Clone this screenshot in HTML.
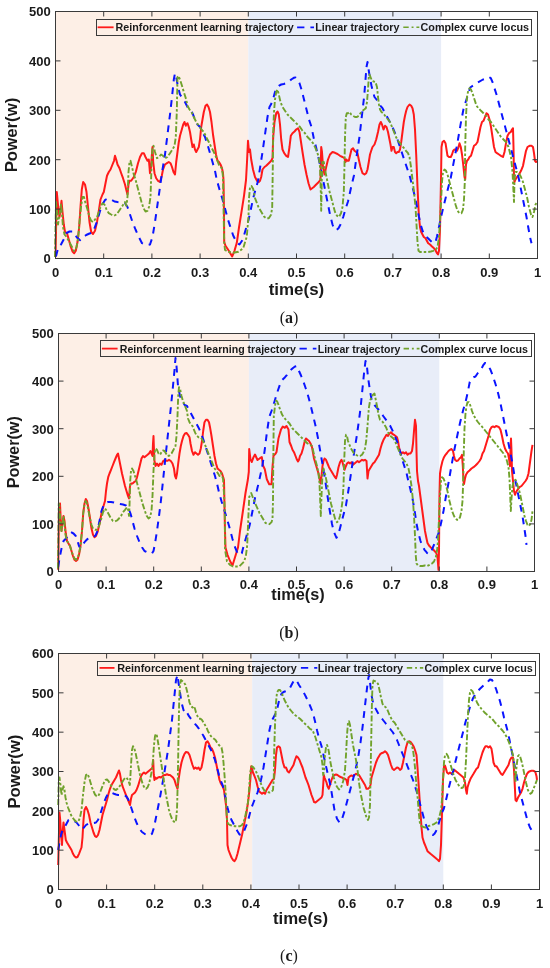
<!DOCTYPE html>
<html><head><meta charset="utf-8"><title>Power curves</title><style>html,body{margin:0;padding:0;background:#fff;width:550px;height:968px;overflow:hidden}</style></head><body>
<svg width="550" height="968" viewBox="0 0 550 968" style="display:block">
<rect width="550" height="968" fill="#fff"/>
<rect x="55.5" y="11.5" width="192.80" height="247.00" fill="#fdefe6"/>
<rect x="248.30" y="11.5" width="192.80" height="247.00" fill="#e8edf8"/>
<g fill="none" stroke-linejoin="round">
<path d="M55.5 257.0 L56.8 192.0 L58.2 207.0 L59.5 217.0 L60.5 209.5 L61.5 200.8 L62.5 212.0 L63.8 224.5 L65.0 232.0 L67.0 233.2 L68.8 239.5 L70.5 245.8 L72.5 251.5 L74.2 253.2 L75.8 250.8 L77.5 242.0 L79.2 227.0 L80.5 207.0 L81.8 189.5 L83.2 182.0 L85.0 184.5 L86.5 192.0 L88.0 207.0 L89.5 222.0 L91.2 232.0 L93.0 234.0 L95.0 230.8 L97.0 222.0 L98.8 210.8 L100.5 199.5 L102.5 194.5 L103.8 192.0 L105.5 183.2 L107.0 175.8 L108.8 172.0 L110.5 169.5 L112.5 164.5 L114.0 160.8 L115.0 155.8 L116.2 159.5 L117.5 164.5 L119.5 168.2 L121.2 173.2 L123.0 178.2 L125.0 184.5 L126.2 189.5 L127.5 194.5 L128.5 184.5 L129.5 180.8 L131.2 180.8 L133.8 177.0 L135.8 172.0 L138.0 163.2 L140.0 157.0 L142.0 153.2 L143.8 153.2 L145.5 157.0 L147.5 160.8 L148.8 159.5 L149.5 167.0 L150.0 173.2 L151.0 167.0 L151.8 155.8 L152.5 147.0 L153.2 162.0 L154.5 173.2 L156.2 178.2 L158.0 180.8 L160.0 182.0 L161.8 175.8 L163.0 169.5 L165.0 164.5 L167.0 163.2 L168.8 162.0 L170.5 163.2 L172.0 167.0 L173.5 172.0 L175.0 174.5 L176.2 162.0 L177.5 152.0 L178.8 142.0 L180.0 135.8 L181.8 129.5 L183.2 124.5 L184.5 122.0 L185.8 125.8 L186.2 124.5 L187.5 123.2 L188.8 127.0 L190.0 132.0 L191.2 139.5 L192.5 147.0 L193.8 144.5 L195.0 149.5 L196.2 152.0 L197.5 149.5 L198.8 147.0 L200.0 139.5 L201.2 127.0 L202.5 119.5 L203.8 112.0 L205.5 105.8 L207.0 104.5 L208.5 107.0 L210.0 112.0 L211.5 122.0 L213.0 134.5 L214.5 144.5 L216.0 154.5 L217.5 160.8 L219.0 162.0 L220.5 164.5 L222.0 168.2 L223.0 173.2 L223.5 180.0 L224.0 212.0 L224.2 242.0 L225.5 245.8 L228.8 250.8 L232.2 256.5 L234.5 250.8 L236.8 242.8 L239.0 227.5 L241.5 211.8 L244.0 195.8 L246.0 180.0 L247.0 162.0 L248.0 140.8 L249.0 152.0 L250.0 149.5 L251.2 159.5 L253.0 169.5 L255.0 177.0 L257.0 180.8 L258.8 182.0 L260.0 180.8 L261.2 177.0 L262.5 169.5 L264.5 167.0 L266.2 165.8 L268.8 163.2 L271.2 160.8 L272.5 158.2 L273.2 137.0 L274.5 122.0 L276.2 113.2 L277.5 111.5 L278.8 114.5 L280.0 124.5 L281.2 139.5 L282.5 149.5 L284.2 153.2 L286.2 155.8 L288.0 157.0 L289.5 147.0 L290.8 135.8 L292.5 133.2 L294.5 131.5 L296.2 129.5 L298.0 128.2 L299.5 132.0 L301.0 142.0 L302.5 152.0 L304.5 164.5 L306.5 174.5 L308.5 183.2 L310.5 189.5 L313.8 187.0 L316.2 184.5 L318.8 182.0 L320.5 179.5 L321.2 147.0 L322.0 152.0 L323.0 167.0 L324.5 174.5 L326.2 167.0 L328.0 159.5 L330.0 154.5 L332.5 152.0 L335.0 152.8 L337.5 154.0 L340.0 155.8 L342.5 157.0 L344.5 158.2 L345.5 162.0 L346.5 159.5 L347.5 160.8 L348.8 160.8 L350.0 155.8 L351.5 149.5 L353.0 148.2 L354.5 150.8 L356.2 152.0 L357.5 153.2 L358.8 159.5 L360.5 167.0 L362.5 173.2 L364.5 174.5 L366.2 173.2 L367.5 169.5 L368.8 162.0 L370.0 154.5 L371.2 150.8 L372.5 147.0 L374.5 144.5 L376.2 139.5 L378.0 132.0 L379.5 124.5 L380.8 122.0 L382.0 124.5 L383.5 129.5 L385.0 125.8 L386.5 127.0 L388.0 132.0 L389.5 139.5 L390.5 144.5 L391.5 150.8 L392.5 147.0 L393.8 147.0 L395.0 152.0 L396.2 153.2 L397.5 152.0 L398.8 152.0 L400.0 149.5 L401.2 142.0 L402.5 132.0 L403.8 122.0 L405.0 115.8 L406.2 110.8 L407.5 107.0 L409.5 104.5 L411.2 105.8 L412.5 108.2 L413.8 114.5 L415.0 129.5 L416.2 154.5 L417.5 187.0 L418.8 214.5 L420.0 227.0 L421.2 232.0 L422.5 234.5 L423.8 237.0 L425.5 238.2 L428.2 243.2 L430.0 244.5 L432.0 246.5 L434.0 248.2 L435.8 250.8 L437.0 253.2 L438.0 254.5 L439.0 250.8 L440.0 229.5 L441.0 179.5 L441.5 147.0 L442.5 142.0 L444.0 140.8 L445.5 143.2 L446.5 149.5 L447.5 155.8 L449.0 157.0 L450.8 157.0 L452.0 154.5 L453.2 150.8 L454.5 149.5 L455.8 149.5 L457.0 150.8 L458.2 148.2 L459.5 143.2 L460.8 147.0 L462.0 154.5 L463.2 164.5 L464.5 177.0 L465.2 179.5 L466.0 164.5 L467.0 160.8 L468.2 159.5 L469.5 157.0 L471.0 155.8 L472.5 150.8 L474.0 145.8 L475.8 144.5 L477.5 142.0 L479.0 134.5 L480.5 127.0 L482.0 122.0 L483.5 120.8 L485.0 117.0 L486.5 113.2 L488.0 114.5 L489.5 119.5 L491.0 127.0 L492.5 137.0 L494.0 147.0 L495.5 152.0 L497.0 153.2 L499.0 154.5 L501.0 155.8 L503.0 157.0 L504.5 152.0 L506.0 143.2 L507.5 135.8 L509.0 133.2 L510.8 132.0 L512.0 129.5 L513.0 128.2 L513.5 147.0 L514.0 177.0 L514.5 182.0 L515.5 179.5 L517.0 177.0 L519.0 174.5 L521.0 170.8 L523.0 165.8 L524.5 158.2 L526.0 150.8 L527.5 147.0 L529.5 145.8 L531.5 145.8 L533.0 147.0 L534.0 153.2 L535.0 160.8 L536.0 162.0 L537.0 160.8" stroke="#ff1a1a" stroke-width="2"/>
<path d="M55.5 256.5 L56.2 255.5 L58.5 246.8 L61.0 244.5 L63.0 240.8 L65.0 237.0 L66.5 233.0 L69.5 231.5 L73.0 231.5 L75.2 235.2 L77.5 238.0 L80.2 240.2 L83.0 237.0 L86.2 235.0 L89.5 233.5 L92.8 232.5 L96.5 222.8 L99.8 211.8 L102.0 205.2 L105.2 199.8 L108.0 198.5 L111.2 199.5 L114.5 201.5 L117.5 202.0 L121.2 202.5 L125.0 203.2 L127.5 207.0 L130.0 214.5 L132.5 222.0 L135.5 229.5 L138.8 237.0 L142.0 243.2 L145.0 244.5 L147.5 245.0 L150.0 244.5 L152.5 237.0 L155.0 222.0 L157.5 204.5 L160.0 187.0 L162.5 169.5 L165.0 154.5 L167.5 134.5 L170.0 114.5 L172.0 97.0 L173.8 79.5 L175.0 73.2 L176.2 77.0 L178.0 87.0 L180.0 94.5 L182.5 98.2 L185.0 102.0 L187.5 107.0 L190.0 109.5 L192.5 113.2 L195.0 119.5 L197.5 124.5 L200.0 127.0 L202.5 132.0 L205.0 137.0 L207.5 144.5 L210.0 153.2 L212.5 162.0 L215.0 170.8 L216.8 180.0 L219.5 189.5 L222.2 198.2 L225.0 208.5 L227.8 219.0 L230.5 227.5 L233.2 235.5 L236.8 242.8 L239.5 244.5 L242.0 240.8 L244.0 235.5 L246.2 227.8 L248.5 220.0 L250.8 209.5 L253.2 198.2 L255.5 189.5 L257.8 181.8 L260.0 168.2 L262.5 152.0 L265.0 134.5 L267.5 117.0 L269.5 107.0 L271.2 104.0 L273.0 99.5 L275.0 92.0 L276.8 88.2 L278.8 85.8 L281.2 84.5 L283.8 84.0 L286.2 83.2 L288.8 82.0 L291.2 79.5 L293.8 77.8 L295.5 77.5 L297.5 79.5 L299.5 83.2 L301.5 89.5 L304.0 99.5 L306.5 109.5 L309.0 119.5 L311.5 127.0 L314.0 139.5 L316.0 147.0 L318.0 155.8 L320.0 164.5 L322.5 177.0 L325.0 189.5 L327.5 202.0 L330.0 214.5 L332.5 224.5 L334.5 229.5 L336.5 230.0 L338.5 228.2 L340.5 224.5 L343.2 217.0 L345.8 208.2 L348.0 201.5 L351.0 187.8 L354.0 175.2 L357.2 152.0 L359.5 136.5 L362.0 114.8 L364.2 96.2 L365.5 79.5 L366.5 67.0 L367.5 62.0 L368.8 70.8 L370.0 78.2 L371.5 85.8 L373.0 92.0 L374.5 97.0 L376.5 99.5 L378.5 102.0 L380.5 105.8 L382.5 108.2 L384.5 112.0 L386.5 115.8 L388.5 119.5 L390.5 123.2 L392.5 127.0 L395.0 133.2 L397.5 139.5 L400.0 147.0 L402.5 154.5 L405.0 162.0 L407.5 169.5 L410.0 177.0 L412.5 187.0 L415.0 197.0 L417.0 207.0 L419.0 217.0 L421.0 225.8 L423.0 232.0 L425.0 235.8 L428.0 238.2 L430.0 240.2 L432.0 242.0 L434.0 243.2 L435.8 240.8 L437.0 236.5 L439.0 227.0 L441.0 217.0 L445.8 197.2 L450.8 177.5 L454.5 158.0 L457.5 142.5 L460.5 124.8 L463.5 109.0 L466.5 99.2 L470.2 87.5 L476.2 83.5 L483.0 79.5 L487.0 78.2 L489.0 77.0 L490.8 78.2 L492.5 82.0 L494.5 88.2 L496.5 94.5 L498.5 102.0 L500.5 109.5 L502.5 117.0 L504.5 124.5 L506.5 132.0 L508.5 139.5 L510.5 147.0 L512.5 154.5 L514.5 162.0 L516.5 169.5 L518.5 177.0 L520.5 187.0 L522.5 197.0 L524.5 207.0 L526.5 217.0 L528.2 227.0 L530.0 237.0 L531.5 243.2" stroke="#0a14ff" stroke-width="2" stroke-dasharray="6.8 6"/>
<path d="M55.0 257.0 L56.0 202.0 L57.0 212.0 L58.0 224.5 L59.5 214.5 L61.0 204.5 L62.0 214.5 L63.0 227.0 L64.5 234.5 L66.2 236.5 L68.0 239.5 L70.0 243.2 L72.0 247.0 L73.8 250.8 L75.0 250.8 L76.5 247.0 L78.0 239.5 L79.5 222.0 L81.0 207.0 L82.5 197.0 L84.0 197.0 L85.5 203.2 L87.5 209.5 L89.5 217.0 L91.2 220.8 L93.0 222.0 L95.0 219.5 L97.0 217.0 L98.8 212.0 L100.5 207.0 L102.5 203.2 L104.5 204.5 L106.5 209.5 L108.8 213.2 L111.2 214.5 L113.8 215.8 L115.5 215.0 L117.5 213.2 L120.0 209.5 L122.5 205.8 L125.0 202.0 L126.5 205.8 L127.5 197.0 L128.5 172.0 L129.5 162.0 L130.5 160.8 L132.0 167.0 L133.8 174.5 L135.5 179.5 L137.5 187.0 L139.5 194.5 L141.5 202.0 L143.5 208.2 L145.5 211.5 L147.5 210.8 L149.0 207.0 L150.5 197.0 L151.5 167.0 L152.5 147.0 L153.5 145.8 L155.0 152.0 L157.0 158.2 L159.0 157.0 L161.0 154.5 L163.0 155.8 L165.0 158.2 L167.5 157.0 L170.0 153.2 L172.5 149.5 L174.5 145.8 L175.8 137.0 L176.8 112.0 L177.5 77.0 L178.5 75.8 L180.0 79.5 L182.0 85.8 L183.8 92.0 L186.2 99.5 L187.5 105.8 L189.5 109.5 L191.5 112.0 L193.8 117.0 L196.2 122.0 L198.8 125.8 L201.2 129.0 L203.8 132.0 L206.2 137.0 L208.8 142.0 L211.2 147.0 L213.8 152.0 L215.5 155.8 L217.0 159.5 L218.8 164.5 L220.5 167.0 L222.0 168.5 L223.0 177.0 L223.5 207.0 L224.2 242.0 L225.0 250.0 L228.5 251.8 L233.2 252.8 L238.5 251.8 L243.2 248.2 L246.8 236.5 L248.5 216.5 L249.0 198.2 L250.0 187.2 L251.5 186.0 L253.2 189.0 L255.0 198.2 L258.5 207.2 L264.0 216.5 L266.2 218.2 L268.8 218.2 L271.2 214.5 L272.2 207.0 L272.8 167.0 L273.2 132.0 L274.0 112.0 L275.0 99.5 L276.2 92.0 L277.5 89.5 L278.8 94.5 L280.5 102.0 L282.5 107.0 L285.0 110.8 L287.5 114.5 L290.0 117.0 L292.5 119.5 L295.0 122.0 L297.5 124.5 L300.0 127.0 L302.5 130.8 L305.0 133.2 L307.5 137.0 L310.0 139.5 L313.0 143.2 L315.0 147.0 L317.0 152.0 L318.8 157.0 L320.0 167.0 L320.8 192.0 L321.2 210.8 L321.8 179.5 L322.5 162.0 L323.8 162.0 L325.0 169.5 L327.0 179.5 L329.0 189.5 L331.0 197.0 L333.0 204.5 L335.0 212.0 L337.0 215.8 L339.0 217.0 L341.0 213.2 L342.5 207.0 L343.8 192.0 L344.5 164.5 L345.0 137.0 L345.8 117.0 L346.8 113.2 L348.0 113.2 L349.5 112.0 L351.2 114.5 L353.0 115.8 L355.0 117.0 L357.0 117.0 L358.8 115.8 L360.5 113.2 L362.5 110.8 L364.2 109.5 L365.8 108.2 L367.0 102.0 L368.0 89.5 L368.8 77.0 L369.5 74.5 L370.5 77.0 L372.0 80.8 L373.8 81.5 L375.5 82.0 L377.0 87.0 L378.0 97.0 L379.0 104.5 L380.0 109.5 L381.5 112.0 L383.0 113.2 L384.5 115.0 L386.0 117.0 L388.0 119.5 L390.0 122.0 L392.0 127.0 L394.0 132.0 L396.0 137.0 L398.0 140.8 L400.0 143.2 L402.0 145.8 L404.0 148.2 L406.0 150.8 L408.0 153.2 L409.5 157.0 L411.0 167.0 L412.5 179.5 L414.0 192.0 L415.5 207.0 L416.5 224.5 L417.5 242.0 L418.5 250.8 L420.0 252.0 L422.5 252.0 L425.0 252.0 L428.2 252.0 L430.8 251.5 L433.2 250.8 L435.8 249.5 L437.5 247.0 L439.0 237.0 L440.0 222.0 L441.0 202.0 L442.0 182.0 L443.0 172.0 L444.5 169.5 L446.0 170.8 L447.5 174.5 L449.5 182.0 L451.5 189.5 L453.5 197.0 L455.5 204.5 L457.5 210.8 L459.5 213.2 L461.5 213.2 L463.0 209.5 L464.0 199.5 L464.8 182.0 L465.2 147.0 L466.0 117.0 L467.0 97.0 L468.2 90.8 L469.5 88.2 L471.0 89.5 L472.5 93.2 L474.5 99.5 L476.5 105.8 L478.5 108.2 L481.0 110.8 L483.5 113.2 L486.0 115.8 L488.5 119.5 L491.0 122.0 L493.5 125.8 L496.0 129.5 L498.5 133.2 L501.0 137.0 L503.5 139.5 L506.0 142.0 L508.5 147.0 L511.0 157.0 L512.5 172.0 L513.5 192.0 L514.0 202.0 L514.5 179.5 L515.5 172.0 L517.0 172.0 L519.0 173.2 L521.0 177.0 L523.0 182.0 L525.0 189.5 L527.0 197.0 L529.0 207.0 L531.0 214.5 L532.5 217.0 L534.0 212.0 L535.5 204.5 L536.5 203.2" stroke="#70a22c" stroke-width="1.9" stroke-dasharray="6 2 2.5 2"/>
</g>
<rect x="55.5" y="11.5" width="482.00" height="247.00" fill="none" stroke="#3a3a3a" stroke-width="1"/>
<path d="M55.50 258.5V253.5M55.50 11.5V16.5M103.70 258.5V253.5M103.70 11.5V16.5M151.90 258.5V253.5M151.90 11.5V16.5M200.10 258.5V253.5M200.10 11.5V16.5M248.30 258.5V253.5M248.30 11.5V16.5M296.50 258.5V253.5M296.50 11.5V16.5M344.70 258.5V253.5M344.70 11.5V16.5M392.90 258.5V253.5M392.90 11.5V16.5M441.10 258.5V253.5M441.10 11.5V16.5M489.30 258.5V253.5M489.30 11.5V16.5M537.50 258.5V253.5M537.50 11.5V16.5M55.5 258.50H60.5M537.5 258.50H532.5M55.5 209.10H60.5M537.5 209.10H532.5M55.5 159.70H60.5M537.5 159.70H532.5M55.5 110.30H60.5M537.5 110.30H532.5M55.5 60.90H60.5M537.5 60.90H532.5M55.5 11.50H60.5M537.5 11.50H532.5" stroke="#3a3a3a" stroke-width="1" fill="none"/>
<g style="font-family:'Liberation Sans',Arial,sans-serif;font-weight:bold;font-size:13px" fill="#1a1a1a"><text x="55.50" y="276.6" text-anchor="middle">0</text><text x="103.70" y="276.6" text-anchor="middle">0.1</text><text x="151.90" y="276.6" text-anchor="middle">0.2</text><text x="200.10" y="276.6" text-anchor="middle">0.3</text><text x="248.30" y="276.6" text-anchor="middle">0.4</text><text x="296.50" y="276.6" text-anchor="middle">0.5</text><text x="344.70" y="276.6" text-anchor="middle">0.6</text><text x="392.90" y="276.6" text-anchor="middle">0.7</text><text x="441.10" y="276.6" text-anchor="middle">0.8</text><text x="489.30" y="276.6" text-anchor="middle">0.9</text><text x="537.50" y="276.6" text-anchor="middle">1</text><text x="50.70" y="263.30" text-anchor="end">0</text><text x="50.70" y="213.90" text-anchor="end">100</text><text x="50.70" y="164.50" text-anchor="end">200</text><text x="50.70" y="115.10" text-anchor="end">300</text><text x="50.70" y="65.70" text-anchor="end">400</text><text x="50.70" y="16.30" text-anchor="end">500</text></g>
<text transform="translate(17.4,135.0) rotate(-90)" text-anchor="middle" style="font-family:'Liberation Sans',Arial,sans-serif;font-weight:bold;font-size:17px" fill="#1a1a1a" textLength="74.7" lengthAdjust="spacingAndGlyphs">Power(w)</text>
<text x="296.45" y="294.6" text-anchor="middle" style="font-family:'Liberation Sans',Arial,sans-serif;font-weight:bold;font-size:17px" fill="#1a1a1a" textLength="55.5" lengthAdjust="spacingAndGlyphs">time(s)</text>
<text x="289" y="322.8" text-anchor="middle" style="font-family:'Liberation Serif',serif;font-size:16px" fill="#1a1a1a">(<tspan font-weight="bold">a</tspan>)</text>
<rect x="96.5" y="19.5" width="435.00" height="16.00" fill="none" stroke="#3a3a3a" stroke-width="1"/>
<path d="M97.6 27.3H113.6" stroke="#ff1a1a" stroke-width="1.8"/>
<path d="M297.1 27.3H314" stroke="#0a14ff" stroke-width="1.8" stroke-dasharray="7.3 6"/>
<path d="M403.3 27.3H419.3" stroke="#70a22c" stroke-width="1.6" stroke-dasharray="5.4 2.9 1.9 2.9"/>
<text x="115.6" y="31.4" style="font-family:'Liberation Sans',Arial,sans-serif;font-weight:bold;font-size:11px" fill="#1a1a1a" textLength="178.2" lengthAdjust="spacingAndGlyphs">Reinforcenment learning trajectory</text>
<text x="315.3" y="31.4" style="font-family:'Liberation Sans',Arial,sans-serif;font-weight:bold;font-size:11px" fill="#1a1a1a" textLength="84.1" lengthAdjust="spacingAndGlyphs">Linear trajectory</text>
<text x="420.5" y="31.4" style="font-family:'Liberation Sans',Arial,sans-serif;font-weight:bold;font-size:11px" fill="#1a1a1a" textLength="108.5" lengthAdjust="spacingAndGlyphs">Complex curve locus</text>
<rect x="58.5" y="333.5" width="190.40" height="238.00" fill="#fdefe6"/>
<rect x="248.90" y="333.5" width="190.40" height="238.00" fill="#e8edf8"/>
<g fill="none" stroke-linejoin="round">
<path d="M58.2 569.8 L59.0 506.0 L60.0 503.5 L60.8 521.0 L61.5 531.0 L62.5 523.5 L63.5 516.0 L64.5 521.0 L65.8 533.5 L67.0 541.0 L68.5 543.5 L70.0 546.0 L71.5 551.0 L73.0 556.0 L74.5 559.8 L76.0 561.0 L77.5 559.8 L79.0 554.8 L80.5 546.0 L82.0 531.0 L83.2 513.5 L84.5 503.5 L85.8 499.0 L87.0 501.0 L88.5 508.5 L90.0 518.5 L91.5 528.5 L93.0 534.8 L94.5 537.2 L96.0 536.0 L97.5 532.2 L99.0 526.0 L100.5 518.5 L102.0 511.0 L103.5 506.0 L105.0 501.0 L106.0 491.0 L107.0 483.5 L108.2 477.2 L109.5 473.5 L111.0 469.8 L112.5 466.0 L114.0 462.2 L115.5 458.5 L117.0 454.8 L118.0 453.5 L119.0 458.5 L120.5 466.0 L122.0 473.5 L123.5 479.8 L125.0 486.0 L126.5 491.0 L128.0 496.0 L129.0 498.5 L130.0 486.0 L131.0 483.5 L132.5 483.5 L134.0 482.2 L135.8 481.0 L137.0 477.2 L138.5 471.0 L140.0 464.8 L141.5 458.5 L143.0 456.0 L144.5 457.2 L146.0 456.0 L147.5 454.8 L149.0 453.5 L150.5 451.0 L151.5 453.5 L152.5 456.0 L153.0 443.5 L153.5 436.0 L154.0 451.0 L154.5 461.0 L155.5 466.0 L157.0 463.5 L158.5 466.0 L160.0 463.5 L161.5 464.8 L163.2 461.0 L165.0 459.8 L167.0 461.0 L169.0 459.8 L170.8 461.0 L172.5 463.5 L174.0 468.5 L175.0 476.0 L176.0 478.5 L177.0 473.5 L178.2 463.5 L179.5 453.5 L180.8 446.0 L182.0 441.0 L183.5 436.0 L185.0 433.5 L186.5 433.0 L188.0 434.8 L189.5 437.2 L190.5 443.5 L192.0 451.0 L193.5 454.8 L195.0 452.2 L196.5 453.5 L198.0 454.8 L199.5 453.5 L200.8 448.5 L202.0 441.0 L203.2 431.0 L204.5 422.2 L206.0 419.8 L207.5 419.8 L209.0 422.2 L210.0 427.2 L211.5 436.0 L213.0 446.0 L214.5 456.0 L216.0 463.5 L217.5 468.5 L219.0 469.8 L220.5 471.0 L222.0 473.5 L223.2 477.2 L224.0 480.0 L224.5 506.0 L225.0 531.0 L225.5 547.5 L227.5 554.8 L230.0 561.0 L232.5 565.5 L235.0 557.2 L238.0 547.5 L240.0 531.0 L242.2 516.0 L244.0 503.5 L245.5 493.0 L247.8 480.0 L248.8 471.8 L249.2 449.0 L250.5 459.5 L251.8 462.0 L253.5 457.2 L255.0 454.5 L257.5 460.0 L260.0 458.2 L261.8 457.0 L263.0 465.5 L264.8 469.2 L266.8 479.2 L269.2 484.2 L271.5 484.2 L272.5 466.8 L273.5 455.8 L275.5 453.8 L276.5 452.0 L278.5 438.2 L281.0 429.5 L282.8 426.5 L284.8 427.8 L286.5 426.0 L288.5 429.5 L289.5 442.0 L291.2 446.0 L291.2 446.0 L292.5 449.8 L294.0 452.2 L295.5 456.0 L297.0 459.8 L298.0 461.5 L299.0 459.8 L300.0 456.0 L301.5 453.5 L303.0 448.5 L304.5 442.2 L306.0 438.5 L307.5 439.8 L309.0 441.0 L310.5 443.5 L312.0 447.2 L314.0 458.5 L315.5 463.5 L317.0 468.5 L318.5 473.5 L319.5 478.5 L320.5 483.5 L321.5 476.0 L322.5 466.0 L323.5 461.0 L324.5 458.5 L326.0 459.8 L327.5 463.5 L329.0 467.2 L330.5 469.8 L332.0 472.2 L333.5 474.8 L335.0 477.2 L336.0 478.5 L337.0 474.8 L338.5 467.2 L340.0 462.2 L341.5 459.8 L342.5 462.2 L343.5 466.0 L344.5 469.8 L345.5 467.2 L347.0 463.5 L348.5 462.2 L350.0 463.5 L351.5 462.2 L353.0 464.8 L354.5 463.5 L356.0 462.2 L357.5 461.0 L359.0 462.2 L360.5 461.0 L362.0 459.8 L363.5 460.5 L365.0 459.8 L366.5 461.0 L367.5 478.5 L368.5 471.0 L370.0 468.5 L371.5 466.0 L373.0 463.5 L374.5 462.2 L376.0 459.8 L377.5 457.2 L379.0 454.8 L380.5 448.5 L382.0 443.5 L383.5 439.8 L385.0 437.2 L386.5 434.8 L388.0 436.0 L389.5 433.5 L391.0 432.2 L392.5 434.0 L394.0 434.8 L395.5 436.0 L397.0 437.2 L398.0 441.0 L399.0 447.2 L400.0 451.0 L401.5 453.5 L403.0 452.2 L404.5 453.5 L406.0 452.2 L407.5 454.8 L409.0 453.5 L410.5 453.5 L412.0 451.0 L413.0 443.5 L414.0 431.0 L415.0 419.8 L416.0 426.0 L416.5 451.0 L417.0 471.0 L418.0 481.0 L419.0 486.0 L420.0 493.5 L421.0 501.0 L422.0 508.5 L423.0 516.0 L424.0 523.5 L425.0 531.0 L426.5 538.5 L427.5 543.0 L429.0 545.5 L430.5 547.2 L432.0 548.5 L433.5 549.8 L435.0 551.5 L436.5 553.5 L437.5 557.2 L438.5 569.8 L439.0 551.0 L439.5 493.5 L440.0 473.5 L441.0 467.2 L442.5 461.0 L444.0 457.2 L445.5 454.8 L447.0 453.0 L448.5 451.0 L450.0 449.8 L451.5 449.0 L453.0 451.0 L454.0 456.0 L455.0 459.8 L456.5 461.0 L458.0 460.5 L459.5 458.5 L461.0 457.2 L462.0 454.8 L462.8 466.0 L463.5 481.0 L464.0 484.0 L465.0 478.5 L466.0 474.8 L467.5 472.2 L469.5 470.5 L471.5 468.5 L473.5 467.2 L475.5 465.5 L477.5 463.5 L479.5 461.0 L481.0 458.5 L482.5 453.5 L484.0 451.0 L485.5 446.0 L487.0 441.0 L488.5 436.0 L490.0 429.8 L491.5 427.2 L493.0 426.5 L494.5 427.2 L496.0 426.0 L497.5 426.5 L499.0 427.2 L500.5 429.8 L502.0 436.0 L503.5 443.5 L505.0 448.5 L506.5 451.5 L508.0 453.5 L509.0 458.5 L510.0 466.0 L510.5 448.5 L511.0 438.5 L511.5 451.0 L512.0 471.0 L513.0 481.0 L514.0 491.0 L515.0 494.8 L516.0 492.2 L517.5 489.8 L519.5 487.2 L521.5 486.0 L523.5 483.5 L525.5 481.0 L527.0 478.5 L528.5 473.5 L529.5 466.0 L530.5 458.5 L531.5 451.0 L532.5 444.8" stroke="#ff1a1a" stroke-width="2"/>
<path d="M58.2 567.2 L59.5 558.5 L61.5 548.5 L63.5 541.0 L66.0 538.5 L68.5 534.8 L71.0 532.2 L73.5 533.5 L75.8 536.0 L77.5 541.0 L79.0 546.0 L80.5 548.5 L82.0 546.0 L83.5 543.5 L85.5 541.0 L87.5 539.0 L89.5 538.0 L91.5 538.0 L93.5 537.0 L95.5 535.5 L97.5 531.0 L99.5 521.0 L101.5 511.0 L103.5 505.5 L105.5 503.0 L108.0 502.0 L111.0 502.0 L114.0 502.5 L117.0 503.5 L120.0 504.0 L123.0 504.5 L126.0 505.5 L128.5 508.5 L130.5 513.5 L132.5 521.0 L134.5 528.5 L137.0 536.0 L139.5 542.2 L142.0 547.2 L144.5 551.0 L147.0 552.2 L149.5 553.0 L152.0 553.5 L153.5 551.0 L155.0 543.5 L157.0 531.0 L159.0 516.0 L161.0 500.0 L163.5 476.0 L166.0 452.0 L168.5 429.0 L171.0 406.0 L172.8 388.0 L174.5 370.0 L175.5 358.0 L176.5 366.0 L178.0 386.0 L180.0 396.0 L182.0 401.0 L184.5 404.8 L187.0 406.0 L189.0 409.8 L191.0 413.5 L193.0 417.2 L195.0 421.0 L197.0 424.8 L199.0 428.5 L201.0 433.5 L203.0 438.5 L205.0 444.8 L207.0 451.0 L209.0 457.2 L211.0 463.5 L213.0 469.8 L215.0 476.0 L217.0 483.5 L219.0 492.2 L221.5 501.2 L223.8 508.5 L226.0 515.5 L229.2 526.5 L232.5 539.0 L235.0 547.2 L236.8 551.5 L238.2 554.2 L239.5 555.2 L241.8 553.2 L243.5 546.5 L245.5 539.5 L247.5 532.5 L249.5 525.8 L251.0 518.5 L252.5 511.0 L255.0 498.0 L258.5 483.5 L262.2 466.8 L264.8 449.5 L266.8 433.2 L269.2 417.2 L271.5 411.0 L274.5 401.5 L277.2 392.5 L279.8 385.0 L282.2 380.0 L285.0 377.2 L287.0 374.8 L289.0 372.2 L291.0 369.8 L293.0 368.0 L295.0 366.5 L297.0 366.0 L299.0 371.0 L301.0 375.5 L303.0 380.5 L305.8 388.5 L308.5 397.2 L310.8 406.0 L313.2 416.0 L315.8 427.0 L318.0 438.2 L320.2 451.0 L322.5 464.2 L325.0 479.0 L327.2 494.0 L329.5 509.0 L332.0 524.0 L334.0 532.2 L336.5 537.8 L338.2 534.8 L340.2 527.5 L343.0 516.5 L346.0 505.2 L348.8 488.0 L351.5 470.0 L354.2 452.2 L357.0 434.5 L359.8 414.0 L361.0 403.5 L362.5 388.5 L364.0 373.5 L365.5 361.0 L366.5 362.2 L368.0 377.2 L370.0 390.8 L371.8 400.8 L374.5 405.0 L377.2 408.2 L380.0 411.0 L383.2 416.0 L386.5 420.5 L390.0 425.5 L393.5 432.5 L397.2 442.2 L400.5 453.2 L403.5 463.5 L406.5 473.0 L408.5 481.8 L410.5 489.8 L412.5 498.5 L414.5 509.8 L416.5 523.5 L418.5 533.5 L420.5 541.0 L422.5 546.0 L424.5 549.8 L426.5 552.2 L427.0 553.0 L428.5 554.0 L430.0 553.5 L431.5 551.0 L433.0 547.2 L435.0 542.2 L437.0 537.2 L439.2 531.5 L441.5 521.0 L443.5 511.0 L445.8 497.2 L448.0 485.8 L451.2 467.2 L454.5 449.0 L457.2 436.0 L460.0 423.0 L463.2 410.0 L465.5 402.2 L467.5 393.5 L469.8 381.8 L471.5 378.5 L473.5 377.2 L475.5 376.5 L477.5 373.5 L479.5 371.0 L481.5 368.5 L483.5 364.8 L485.0 363.0 L486.5 363.5 L488.5 366.0 L490.5 369.8 L492.5 374.8 L494.5 381.0 L496.5 387.2 L498.5 394.8 L500.5 403.5 L502.5 413.5 L504.5 423.5 L506.5 433.5 L508.5 443.5 L510.5 453.5 L512.5 463.5 L514.5 476.0 L516.5 486.0 L518.5 496.0 L520.5 506.0 L522.5 516.0 L524.0 526.0 L525.5 536.0 L526.5 544.8" stroke="#0a14ff" stroke-width="2" stroke-dasharray="6.8 6"/>
<path d="M58.0 568.5 L58.8 503.5 L59.5 506.0 L60.5 523.5 L61.5 531.0 L62.5 523.5 L63.5 516.0 L64.5 523.5 L65.5 534.8 L67.0 541.0 L68.5 543.0 L70.0 546.0 L71.5 551.0 L73.0 555.5 L74.5 558.5 L76.0 559.8 L77.5 558.5 L79.0 553.5 L80.5 546.0 L82.0 531.0 L83.2 513.5 L84.5 503.5 L85.8 501.0 L87.0 503.5 L88.5 511.0 L90.0 518.5 L91.5 524.8 L93.0 528.5 L95.0 529.8 L97.0 529.8 L99.0 526.0 L101.0 519.8 L103.0 512.2 L105.0 508.5 L107.0 511.0 L109.0 514.8 L111.0 518.5 L113.0 521.0 L115.0 521.5 L117.0 520.5 L119.0 518.5 L121.0 516.0 L123.0 512.2 L125.0 509.8 L127.0 507.2 L128.2 509.8 L129.0 516.0 L129.5 506.0 L130.2 481.0 L131.0 471.0 L132.0 468.5 L133.5 471.0 L135.0 476.0 L136.5 481.0 L138.5 488.5 L140.5 496.0 L142.5 503.5 L144.5 509.8 L146.5 515.5 L148.5 518.5 L150.0 517.2 L151.5 511.0 L152.5 496.0 L153.5 471.0 L154.5 453.5 L155.5 448.5 L157.0 449.8 L158.5 453.5 L160.0 454.8 L161.5 452.2 L163.0 450.5 L164.5 451.0 L166.0 453.5 L167.5 456.0 L169.5 455.5 L171.5 453.5 L173.5 449.8 L175.5 446.0 L176.5 436.0 L177.5 416.0 L178.2 396.0 L179.0 387.2 L180.0 388.5 L181.5 396.0 L183.0 401.0 L185.0 406.0 L187.0 411.0 L188.0 418.5 L189.5 422.2 L191.0 424.8 L192.5 426.0 L194.0 429.8 L195.5 433.5 L197.0 436.0 L198.5 437.2 L200.0 437.2 L201.5 438.5 L203.0 441.0 L204.5 443.5 L206.0 447.2 L207.5 451.0 L209.0 454.8 L210.5 458.5 L212.0 462.2 L213.5 466.0 L215.0 469.0 L216.5 471.0 L218.0 473.5 L219.5 476.0 L221.0 472.8 L223.0 478.8 L224.0 493.5 L224.8 511.0 L225.0 549.5 L227.0 561.5 L230.0 565.0 L233.0 566.5 L239.2 566.5 L244.2 561.5 L246.0 554.8 L247.2 545.2 L248.2 521.0 L249.2 497.0 L251.2 493.0 L254.2 501.0 L259.5 513.0 L265.5 523.0 L269.5 524.2 L271.5 522.2 L272.5 519.0 L273.0 501.0 L273.2 471.0 L273.5 441.0 L273.8 416.0 L275.0 406.0 L276.0 400.5 L277.2 401.5 L278.5 404.8 L280.2 409.8 L282.2 414.8 L284.0 417.5 L286.0 419.8 L289.5 423.5 L291.0 426.0 L292.5 428.5 L295.0 431.0 L297.5 433.5 L300.0 436.0 L302.5 438.5 L305.0 441.0 L307.5 443.5 L310.0 444.8 L312.0 446.0 L315.0 458.5 L317.0 466.0 L318.5 473.5 L319.5 483.5 L320.2 501.0 L320.8 516.0 L321.5 496.0 L322.5 473.5 L323.5 468.5 L325.0 473.5 L327.0 483.5 L329.0 493.5 L331.0 503.5 L333.0 511.0 L335.0 518.5 L337.0 522.2 L338.5 521.0 L340.0 516.0 L341.5 508.5 L342.5 501.0 L343.5 486.0 L344.2 461.0 L345.0 441.0 L346.0 434.8 L347.0 436.0 L348.0 441.0 L349.5 444.8 L351.0 448.5 L352.5 451.0 L354.0 453.5 L356.0 454.8 L358.0 456.0 L360.0 456.0 L362.0 454.8 L363.5 452.2 L365.0 448.5 L366.2 441.0 L367.5 426.0 L368.8 408.5 L370.0 401.0 L371.5 397.2 L373.0 394.8 L374.5 393.5 L375.5 398.5 L377.0 406.0 L378.5 414.8 L380.0 419.8 L381.5 421.0 L383.0 422.2 L384.5 424.8 L386.0 427.2 L387.5 431.0 L389.0 434.8 L390.5 436.0 L392.0 437.2 L393.5 438.5 L395.0 441.0 L396.5 444.8 L398.0 448.5 L399.5 452.2 L401.0 456.0 L402.5 458.5 L404.5 461.0 L406.5 463.5 L408.5 468.5 L410.0 476.0 L411.5 486.0 L413.0 501.0 L414.0 516.0 L415.0 536.0 L415.8 556.0 L416.5 563.5 L418.0 565.5 L420.0 566.0 L422.5 566.0 L425.0 565.5 L427.0 566.0 L429.5 564.8 L432.0 563.5 L434.0 561.5 L435.8 557.2 L437.0 551.0 L438.0 541.0 L439.0 518.5 L440.0 496.0 L441.0 481.0 L442.0 477.2 L443.5 478.5 L445.0 482.2 L446.5 487.2 L448.0 493.5 L449.5 501.0 L451.0 507.2 L452.5 512.2 L454.0 516.0 L455.5 518.5 L457.0 519.8 L458.5 519.8 L460.0 517.2 L461.5 511.0 L462.5 501.0 L463.2 481.0 L463.8 451.0 L464.5 428.5 L465.5 413.5 L466.5 406.0 L467.5 402.2 L469.0 402.2 L470.5 406.0 L472.0 411.0 L473.5 414.8 L475.5 418.5 L477.5 421.5 L479.5 424.0 L481.5 426.0 L483.5 428.5 L485.5 431.0 L487.5 433.5 L489.5 436.0 L491.5 438.5 L493.5 441.0 L495.5 443.5 L497.5 446.0 L499.5 448.5 L501.5 451.0 L503.5 453.5 L505.5 457.2 L507.0 461.0 L508.5 467.2 L509.5 478.5 L510.2 496.0 L510.8 511.0 L511.5 498.5 L512.5 486.0 L514.0 481.0 L515.5 479.8 L517.0 483.5 L518.5 488.5 L520.0 493.5 L521.5 501.0 L523.0 508.5 L524.5 516.0 L526.0 521.0 L527.5 524.8 L529.0 526.0 L530.5 523.5 L531.5 519.8 L532.5 511.0" stroke="#70a22c" stroke-width="1.9" stroke-dasharray="6 2 2.5 2"/>
</g>
<rect x="58.5" y="333.5" width="476.00" height="238.00" fill="none" stroke="#3a3a3a" stroke-width="1"/>
<path d="M58.50 571.5V566.5M58.50 333.5V338.5M106.10 571.5V566.5M106.10 333.5V338.5M153.70 571.5V566.5M153.70 333.5V338.5M201.30 571.5V566.5M201.30 333.5V338.5M248.90 571.5V566.5M248.90 333.5V338.5M296.50 571.5V566.5M296.50 333.5V338.5M344.10 571.5V566.5M344.10 333.5V338.5M391.70 571.5V566.5M391.70 333.5V338.5M439.30 571.5V566.5M439.30 333.5V338.5M486.90 571.5V566.5M486.90 333.5V338.5M534.50 571.5V566.5M534.50 333.5V338.5M58.5 571.50H63.5M534.5 571.50H529.5M58.5 523.90H63.5M534.5 523.90H529.5M58.5 476.30H63.5M534.5 476.30H529.5M58.5 428.70H63.5M534.5 428.70H529.5M58.5 381.10H63.5M534.5 381.10H529.5M58.5 333.50H63.5M534.5 333.50H529.5" stroke="#3a3a3a" stroke-width="1" fill="none"/>
<g style="font-family:'Liberation Sans',Arial,sans-serif;font-weight:bold;font-size:13px" fill="#1a1a1a"><text x="58.50" y="589.4" text-anchor="middle">0</text><text x="106.10" y="589.4" text-anchor="middle">0.1</text><text x="153.70" y="589.4" text-anchor="middle">0.2</text><text x="201.30" y="589.4" text-anchor="middle">0.3</text><text x="248.90" y="589.4" text-anchor="middle">0.4</text><text x="296.50" y="589.4" text-anchor="middle">0.5</text><text x="344.10" y="589.4" text-anchor="middle">0.6</text><text x="391.70" y="589.4" text-anchor="middle">0.7</text><text x="439.30" y="589.4" text-anchor="middle">0.8</text><text x="486.90" y="589.4" text-anchor="middle">0.9</text><text x="534.50" y="589.4" text-anchor="middle">1</text><text x="53.70" y="576.30" text-anchor="end">0</text><text x="53.70" y="528.70" text-anchor="end">100</text><text x="53.70" y="481.10" text-anchor="end">200</text><text x="53.70" y="433.50" text-anchor="end">300</text><text x="53.70" y="385.90" text-anchor="end">400</text><text x="53.70" y="338.30" text-anchor="end">500</text></g>
<text transform="translate(19.2,452.2) rotate(-90)" text-anchor="middle" style="font-family:'Liberation Sans',Arial,sans-serif;font-weight:bold;font-size:17px" fill="#1a1a1a" textLength="72.2" lengthAdjust="spacingAndGlyphs">Power(w)</text>
<text x="298" y="600.3" text-anchor="middle" style="font-family:'Liberation Sans',Arial,sans-serif;font-weight:bold;font-size:17px" fill="#1a1a1a" textLength="53.4" lengthAdjust="spacingAndGlyphs">time(s)</text>
<text x="289" y="637.8" text-anchor="middle" style="font-family:'Liberation Serif',serif;font-size:16px" fill="#1a1a1a">(<tspan font-weight="bold">b</tspan>)</text>
<rect x="100.5" y="340.5" width="431.00" height="16.00" fill="none" stroke="#3a3a3a" stroke-width="1"/>
<path d="M101.9 348.6H117.6" stroke="#ff1a1a" stroke-width="1.8"/>
<path d="M299.5 348.6H316.4" stroke="#0a14ff" stroke-width="1.8" stroke-dasharray="7.3 6"/>
<path d="M403.6 348.6H419.5" stroke="#70a22c" stroke-width="1.6" stroke-dasharray="5.4 2.9 1.9 2.9"/>
<text x="119.8" y="352.6" style="font-family:'Liberation Sans',Arial,sans-serif;font-weight:bold;font-size:10.5px" fill="#1a1a1a" textLength="176.1" lengthAdjust="spacingAndGlyphs">Reinforcenment learning trajectory</text>
<text x="317.7" y="352.6" style="font-family:'Liberation Sans',Arial,sans-serif;font-weight:bold;font-size:10.5px" fill="#1a1a1a" textLength="82.7" lengthAdjust="spacingAndGlyphs">Linear trajectory</text>
<text x="420.5" y="352.6" style="font-family:'Liberation Sans',Arial,sans-serif;font-weight:bold;font-size:10.5px" fill="#1a1a1a" textLength="107.5" lengthAdjust="spacingAndGlyphs">Complex curve locus</text>
<rect x="58.5" y="653.5" width="193.70" height="236.00" fill="#fdefe6"/>
<rect x="252.20" y="653.5" width="191.10" height="236.00" fill="#e8edf8"/>
<g fill="none" stroke-linejoin="round">
<path d="M58.2 865.0 L58.8 840.0 L59.5 812.5 L60.2 820.0 L61.0 835.0 L62.0 845.0 L62.8 830.0 L63.5 822.5 L64.5 830.0 L65.8 840.0 L67.0 842.5 L68.5 845.0 L70.0 847.5 L71.5 850.0 L73.0 853.8 L74.5 856.2 L76.0 857.5 L77.5 857.0 L79.0 853.8 L80.5 850.0 L81.5 847.5 L82.5 837.5 L83.5 820.0 L84.5 810.0 L86.0 807.0 L87.5 810.0 L89.0 815.0 L90.5 822.5 L92.0 827.5 L93.5 832.5 L95.0 836.2 L96.5 837.0 L98.0 835.0 L99.5 830.0 L101.0 822.5 L102.5 815.0 L104.0 810.0 L105.5 805.0 L107.0 800.0 L108.5 793.8 L110.0 788.8 L111.5 785.0 L113.0 782.5 L114.5 780.0 L116.0 777.5 L117.5 773.8 L119.0 770.5 L120.0 773.8 L121.0 780.0 L122.5 786.2 L124.0 790.0 L125.5 793.8 L127.0 797.5 L128.5 801.2 L130.0 805.0 L131.0 798.8 L132.0 795.0 L133.5 793.8 L135.0 792.5 L136.5 790.0 L138.0 786.2 L139.5 781.2 L141.0 776.2 L142.5 773.8 L144.0 772.5 L145.5 773.8 L147.0 772.5 L148.5 771.2 L150.0 770.0 L151.5 768.8 L152.5 767.5 L153.2 760.0 L153.8 775.0 L154.5 780.0 L155.5 777.5 L156.5 778.8 L158.0 777.5 L159.5 777.0 L161.0 777.5 L162.5 776.2 L164.0 775.0 L165.5 775.0 L167.0 774.2 L168.5 775.0 L170.0 775.0 L171.5 776.2 L173.0 777.5 L174.5 780.0 L176.0 785.0 L177.5 788.8 L178.5 780.0 L180.0 770.0 L181.5 762.5 L183.0 757.5 L184.5 753.8 L186.0 752.0 L188.0 752.5 L189.5 755.0 L191.0 760.0 L192.5 765.0 L194.0 768.8 L195.5 767.5 L197.0 768.8 L198.5 767.5 L200.0 770.0 L201.5 767.5 L203.0 760.0 L204.5 750.0 L206.0 742.5 L207.5 741.2 L209.0 743.8 L210.5 747.5 L212.0 748.8 L213.5 752.5 L215.0 757.5 L216.5 765.0 L218.0 772.5 L219.5 780.0 L221.0 783.8 L222.5 786.2 L224.0 790.0 L225.0 797.5 L226.0 805.0 L227.0 820.0 L227.5 845.0 L228.5 850.0 L230.0 853.8 L231.5 857.5 L233.0 860.0 L234.5 861.2 L236.0 858.8 L237.5 853.8 L239.0 847.5 L240.5 841.2 L242.0 835.0 L243.5 827.5 L245.0 820.0 L246.5 812.5 L248.0 802.5 L249.5 790.0 L250.5 777.5 L251.2 766.2 L252.0 768.8 L253.0 772.5 L254.5 776.2 L256.0 780.0 L257.5 786.2 L259.0 791.2 L260.5 792.5 L262.0 793.8 L263.5 792.5 L265.0 793.8 L266.5 790.0 L268.0 787.5 L269.5 785.0 L271.0 782.5 L272.5 780.0 L274.0 778.8 L275.0 770.0 L276.0 755.0 L277.0 747.5 L278.5 746.2 L280.0 747.5 L281.5 755.0 L283.0 762.5 L284.5 767.5 L286.0 767.5 L287.5 771.2 L289.0 772.5 L290.5 770.0 L292.0 767.5 L293.5 765.0 L295.0 760.0 L296.5 756.2 L298.0 757.5 L299.5 760.0 L301.0 763.8 L302.5 767.5 L304.0 772.5 L305.5 777.5 L307.0 781.2 L308.5 785.0 L310.0 790.0 L311.5 795.0 L313.0 798.8 L314.0 802.0 L315.5 802.5 L317.0 801.2 L318.5 800.0 L320.0 798.8 L321.5 797.5 L322.5 795.0 L323.2 785.0 L323.8 775.0 L324.5 777.5 L325.5 780.0 L326.5 782.5 L327.5 786.2 L328.8 788.8 L330.0 785.0 L331.5 780.0 L333.0 776.2 L334.5 775.0 L336.0 774.5 L337.5 775.0 L339.0 776.2 L340.5 777.0 L342.0 777.5 L343.5 778.8 L345.0 778.8 L346.5 780.0 L347.5 785.0 L348.5 777.5 L350.0 776.2 L351.5 775.5 L353.0 776.2 L354.5 775.0 L356.0 773.8 L357.5 774.5 L359.0 775.0 L360.5 777.5 L362.0 780.0 L363.5 782.5 L365.0 785.0 L366.5 788.8 L368.0 788.8 L369.5 787.5 L370.5 785.0 L371.5 777.5 L373.0 772.5 L374.5 767.5 L376.0 762.5 L377.5 758.8 L379.0 756.2 L380.5 753.8 L382.0 753.0 L383.5 752.5 L385.0 751.2 L386.5 752.5 L388.0 755.0 L389.5 760.0 L391.0 765.0 L392.5 768.8 L394.0 770.0 L395.5 768.8 L397.0 767.5 L398.5 768.0 L400.0 770.0 L401.5 768.8 L403.0 762.5 L404.5 755.0 L406.0 747.5 L407.5 742.5 L409.0 741.2 L410.5 742.0 L412.0 743.8 L413.5 746.2 L415.0 750.0 L416.5 755.0 L417.5 767.5 L418.5 782.5 L419.5 797.5 L420.5 812.5 L421.5 827.5 L422.5 837.5 L424.0 842.5 L425.5 846.2 L427.5 851.2 L429.0 852.5 L430.5 853.8 L432.0 855.0 L433.5 856.2 L435.0 857.5 L436.5 858.8 L438.0 860.0 L439.0 861.2 L440.0 858.8 L441.0 845.0 L442.0 812.5 L443.0 780.0 L444.0 766.2 L445.0 765.5 L446.0 768.8 L447.0 772.5 L448.5 773.8 L450.0 772.5 L451.5 773.8 L453.0 772.5 L454.5 770.0 L456.0 771.2 L457.5 772.5 L459.0 773.8 L460.5 775.0 L462.0 776.2 L463.5 777.5 L465.0 782.5 L466.0 790.0 L466.8 793.8 L467.5 787.5 L469.0 782.5 L470.5 778.8 L472.0 776.2 L473.5 773.8 L475.0 771.2 L476.5 768.8 L478.0 767.5 L479.5 762.5 L481.0 757.5 L482.5 752.5 L484.0 748.8 L485.5 746.2 L487.0 746.2 L488.5 747.5 L490.0 746.2 L491.5 748.8 L492.5 755.0 L493.5 762.5 L495.0 766.2 L496.5 766.2 L498.0 768.8 L499.5 771.2 L501.0 773.8 L502.5 775.0 L504.0 772.5 L505.5 770.0 L507.0 767.5 L508.5 765.0 L510.0 760.0 L511.5 757.5 L513.0 757.5 L514.0 770.0 L515.0 790.0 L515.5 800.0 L516.5 801.2 L518.0 797.5 L519.5 795.0 L521.0 792.5 L522.5 788.8 L524.0 782.5 L525.5 777.5 L527.0 773.8 L528.5 772.0 L530.0 771.2 L531.5 770.8 L533.0 770.8 L534.5 771.2 L535.5 772.5 L536.5 776.2 L537.0 780.0" stroke="#ff1a1a" stroke-width="2"/>
<path d="M58.2 850.0 L59.5 842.5 L61.0 835.0 L62.5 830.0 L64.5 827.5 L66.5 823.8 L68.5 820.0 L70.5 820.0 L72.5 820.5 L74.5 821.2 L76.5 822.5 L78.5 825.0 L80.5 827.5 L82.0 829.5 L84.0 827.5 L86.0 825.0 L88.0 823.8 L90.0 823.5 L92.0 823.2 L94.0 823.0 L96.0 822.5 L98.0 820.0 L100.0 815.0 L102.0 808.8 L104.0 802.5 L106.0 797.5 L108.0 793.8 L110.0 792.5 L112.0 793.0 L114.0 793.8 L116.0 794.5 L118.0 795.0 L120.0 795.0 L122.0 795.0 L124.0 795.0 L126.0 796.2 L128.0 798.8 L130.0 803.8 L132.0 810.0 L134.5 817.5 L137.0 823.8 L139.5 828.8 L142.0 832.0 L144.5 833.8 L147.0 835.0 L149.5 835.5 L152.0 833.8 L154.0 827.5 L156.0 817.5 L158.0 807.5 L160.0 797.5 L162.0 786.2 L164.0 775.0 L166.0 762.5 L168.0 750.0 L170.0 735.0 L172.0 720.0 L174.0 700.0 L176.0 680.0 L177.5 675.0 L178.5 682.5 L180.0 692.5 L181.5 702.5 L183.5 710.0 L185.5 713.8 L187.0 712.5 L189.0 716.2 L191.0 718.8 L193.0 721.2 L195.0 723.8 L197.0 726.2 L199.0 728.8 L201.0 732.5 L203.0 735.0 L205.0 738.8 L207.0 742.5 L209.0 746.2 L211.0 750.0 L213.0 755.0 L215.0 760.0 L217.0 767.5 L219.0 775.0 L221.0 781.2 L223.0 786.2 L224.5 792.5 L226.0 800.0 L227.5 807.5 L229.5 815.0 L231.5 820.0 L233.5 823.8 L235.5 827.5 L237.5 831.2 L239.5 834.5 L241.5 835.0 L243.5 832.5 L245.5 827.5 L247.5 822.5 L249.5 815.0 L251.5 807.5 L253.5 802.5 L255.5 797.5 L257.5 792.5 L259.5 786.2 L261.5 777.5 L263.5 767.5 L265.5 755.0 L267.5 742.5 L269.5 730.0 L271.5 721.2 L273.5 717.5 L275.5 713.8 L277.5 707.5 L279.5 698.8 L281.5 693.8 L283.5 692.0 L285.5 691.2 L287.5 690.5 L289.5 688.8 L291.5 685.0 L293.5 681.2 L295.5 679.5 L297.0 681.2 L299.0 685.0 L301.0 688.0 L303.2 691.5 L305.8 696.5 L308.2 701.5 L310.8 707.5 L313.0 713.0 L315.0 721.2 L317.2 731.0 L319.2 738.8 L321.5 746.0 L323.5 755.0 L325.5 764.0 L328.0 775.0 L330.5 785.5 L332.5 798.0 L334.5 810.2 L337.0 818.8 L339.5 822.5 L341.0 821.2 L342.5 817.5 L344.5 811.2 L346.5 803.8 L348.5 796.2 L350.5 788.8 L352.5 781.2 L354.5 773.8 L356.5 765.0 L358.5 755.0 L360.5 742.5 L362.5 727.5 L364.5 710.0 L366.5 692.5 L368.0 680.0 L369.0 675.0 L370.0 682.5 L371.5 695.0 L373.0 702.5 L375.0 707.5 L377.0 711.2 L379.0 715.0 L381.0 717.5 L383.0 720.0 L385.0 722.5 L387.0 725.0 L389.0 727.5 L391.0 730.0 L393.0 732.5 L395.0 736.2 L397.0 740.0 L399.0 745.0 L401.0 750.0 L403.0 755.0 L405.0 760.0 L407.0 765.0 L409.0 770.0 L411.0 775.0 L413.0 780.0 L415.0 786.2 L417.0 792.5 L419.0 800.0 L421.0 807.5 L423.0 815.0 L425.0 822.5 L427.0 827.5 L428.5 830.0 L430.0 832.5 L431.5 834.5 L433.0 835.0 L434.5 833.8 L436.0 831.2 L437.5 827.5 L439.0 822.5 L440.5 817.5 L442.0 812.5 L443.8 808.8 L446.5 798.0 L449.0 787.0 L451.8 776.2 L454.5 765.5 L457.2 754.5 L460.0 743.8 L462.8 733.0 L465.5 722.0 L467.5 715.5 L470.2 706.2 L473.0 698.2 L476.0 693.0 L480.0 688.8 L483.5 685.5 L487.0 683.0 L488.5 681.0 L490.0 679.5 L492.0 680.0 L494.0 683.8 L496.0 688.8 L498.0 695.0 L500.0 701.2 L502.0 708.8 L504.0 717.5 L506.0 725.0 L508.0 732.5 L510.0 742.5 L512.0 752.5 L514.0 762.5 L516.0 772.5 L518.0 782.5 L520.0 792.5 L522.0 800.0 L524.0 807.5 L526.0 815.0 L528.0 822.5 L530.0 827.5 L531.5 830.0" stroke="#0a14ff" stroke-width="2" stroke-dasharray="6.8 6"/>
<path d="M58.2 805.0 L58.8 780.0 L59.5 777.5 L60.5 785.0 L61.5 795.0 L62.5 790.0 L63.5 786.2 L64.5 790.0 L65.5 797.5 L66.5 802.5 L68.0 807.5 L69.5 811.2 L71.0 815.0 L72.5 817.5 L74.0 819.5 L75.5 821.2 L77.0 822.0 L78.5 821.2 L80.0 817.5 L81.5 810.0 L83.0 795.0 L84.5 782.5 L86.0 775.0 L87.5 773.8 L89.0 777.5 L90.5 782.5 L92.0 787.5 L93.5 791.2 L95.0 794.5 L96.5 796.2 L98.0 796.2 L99.5 793.8 L101.0 790.0 L102.5 786.2 L104.0 782.5 L105.5 780.0 L107.0 779.5 L108.5 781.2 L110.0 783.8 L111.5 786.2 L113.0 788.0 L114.5 789.5 L116.0 790.0 L117.5 788.8 L119.0 787.0 L120.5 785.0 L122.0 782.5 L123.5 780.0 L125.0 778.0 L126.5 777.5 L128.0 780.0 L129.0 782.5 L129.8 785.0 L130.2 780.0 L131.0 765.0 L132.0 750.0 L133.0 746.2 L134.0 747.5 L135.5 752.5 L137.0 760.0 L138.5 767.5 L140.0 775.0 L141.5 780.0 L143.0 785.0 L144.5 787.5 L146.0 788.8 L147.5 787.5 L149.0 783.8 L150.5 777.5 L152.0 770.0 L153.0 760.0 L154.0 745.0 L155.0 736.2 L156.0 733.8 L157.0 736.2 L158.5 745.0 L160.0 755.0 L161.5 765.0 L163.0 775.0 L164.5 785.0 L166.0 795.0 L167.5 802.5 L169.0 810.0 L170.5 815.0 L172.0 818.8 L173.5 821.2 L175.0 822.5 L176.0 820.0 L177.0 810.0 L177.8 780.0 L178.5 737.5 L179.2 700.0 L180.0 685.0 L181.0 680.0 L182.5 681.2 L184.0 682.5 L185.5 685.0 L188.0 695.0 L189.5 702.5 L191.0 706.2 L192.5 707.5 L194.0 706.2 L195.0 708.8 L196.0 712.5 L197.5 716.2 L199.0 718.8 L200.5 718.8 L202.0 720.0 L203.5 722.5 L205.0 725.0 L206.5 727.5 L208.0 731.2 L209.5 733.8 L211.0 736.2 L212.5 737.5 L214.0 738.8 L215.5 740.0 L217.0 742.5 L218.5 744.5 L220.0 746.2 L221.5 747.5 L222.5 752.5 L223.5 762.5 L224.5 775.0 L225.5 790.0 L226.2 805.0 L227.0 820.0 L228.0 823.8 L230.0 825.0 L232.5 825.8 L235.0 826.2 L237.5 826.2 L240.0 826.2 L242.0 825.0 L243.5 822.5 L245.0 817.5 L246.5 810.0 L248.0 802.5 L249.0 790.0 L250.0 775.0 L251.0 767.5 L252.0 766.2 L253.5 767.5 L255.0 770.0 L256.5 772.5 L258.0 776.2 L259.5 780.0 L261.0 783.8 L262.5 787.5 L264.0 790.0 L265.5 791.2 L267.5 792.0 L269.5 792.5 L271.5 792.0 L273.0 790.0 L273.8 777.5 L274.2 750.0 L275.0 725.0 L276.0 702.5 L277.0 692.5 L278.5 690.0 L280.0 690.0 L281.5 692.5 L283.0 696.2 L284.5 700.0 L286.5 703.8 L288.5 707.5 L290.5 710.0 L292.5 712.5 L295.0 715.0 L297.5 717.0 L300.0 718.8 L302.5 721.2 L305.0 723.8 L307.5 726.2 L310.0 728.8 L312.5 730.0 L314.0 733.8 L315.5 737.5 L317.0 742.5 L318.5 747.5 L320.0 752.5 L321.5 757.5 L322.5 765.0 L323.2 775.0 L324.0 770.0 L325.0 755.0 L326.0 747.5 L327.0 745.0 L328.0 747.5 L329.0 752.5 L330.0 760.0 L331.5 767.5 L333.0 775.0 L334.5 780.0 L336.0 785.0 L337.5 787.5 L339.0 789.5 L340.5 788.8 L342.0 785.0 L343.5 780.0 L345.0 770.0 L346.0 755.0 L347.0 735.0 L348.0 722.5 L349.0 721.2 L350.0 725.0 L351.5 735.0 L353.0 745.0 L354.5 752.5 L356.0 760.0 L357.5 770.0 L359.0 782.5 L360.5 792.5 L362.0 800.0 L363.5 807.5 L365.0 812.5 L366.5 817.5 L368.0 820.0 L369.0 817.5 L370.0 805.0 L370.5 780.0 L371.0 750.0 L371.5 725.0 L372.0 700.0 L372.5 685.0 L373.5 680.5 L375.0 681.2 L376.5 682.0 L378.0 683.8 L379.5 690.0 L381.0 697.5 L382.5 703.8 L384.0 706.2 L385.5 707.0 L387.0 708.8 L388.5 712.5 L390.0 716.2 L391.5 718.8 L393.0 721.2 L394.5 722.5 L396.0 725.0 L397.5 727.5 L399.0 730.0 L400.5 732.5 L402.0 735.0 L403.5 737.5 L405.0 740.0 L406.5 741.2 L408.0 742.0 L409.5 742.5 L411.0 743.8 L412.0 746.2 L413.0 750.0 L414.0 757.5 L415.0 767.5 L416.0 780.0 L417.0 790.0 L418.0 802.5 L419.0 815.0 L420.0 823.8 L421.5 826.2 L423.5 827.0 L425.5 827.5 L427.0 826.2 L429.5 825.8 L432.0 825.0 L434.5 823.8 L436.5 822.5 L438.0 820.0 L439.5 816.2 L441.0 810.0 L442.0 800.0 L443.0 780.0 L444.0 762.5 L445.0 755.0 L446.5 753.8 L448.0 756.2 L449.5 761.2 L451.0 766.2 L452.5 771.2 L454.0 776.2 L455.5 780.0 L457.0 782.5 L458.5 785.0 L460.0 787.0 L461.5 788.0 L463.0 787.5 L464.0 785.0 L465.0 777.5 L466.0 760.0 L467.0 737.5 L468.0 715.0 L469.0 700.0 L470.0 692.5 L471.0 690.0 L472.5 691.2 L474.0 695.0 L475.5 698.8 L477.0 702.5 L478.5 705.0 L480.0 707.0 L481.5 708.8 L483.0 710.5 L484.5 712.5 L486.0 713.8 L487.5 715.0 L489.0 716.2 L490.5 717.5 L492.0 718.8 L493.5 720.5 L495.0 722.5 L496.5 724.0 L498.0 725.5 L499.5 727.0 L501.0 728.8 L502.5 730.5 L504.0 732.5 L505.5 735.0 L507.0 737.5 L508.5 741.2 L510.0 745.0 L511.5 750.0 L513.0 755.0 L514.0 762.5 L515.0 775.0 L515.5 782.5 L516.0 772.5 L517.0 762.5 L518.0 756.2 L519.0 755.0 L520.0 756.2 L521.5 761.2 L523.0 767.5 L524.5 775.0 L526.0 782.5 L527.5 788.8 L529.0 792.5 L530.5 793.8 L532.0 792.5 L533.5 788.8 L535.0 785.0 L536.5 781.2 L537.0 780.0" stroke="#70a22c" stroke-width="1.9" stroke-dasharray="6 2 2.5 2"/>
</g>
<rect x="58.5" y="653.5" width="481.00" height="236.00" fill="none" stroke="#3a3a3a" stroke-width="1"/>
<path d="M58.50 889.5V884.5M58.50 653.5V658.5M106.60 889.5V884.5M106.60 653.5V658.5M154.70 889.5V884.5M154.70 653.5V658.5M202.80 889.5V884.5M202.80 653.5V658.5M250.90 889.5V884.5M250.90 653.5V658.5M299.00 889.5V884.5M299.00 653.5V658.5M347.10 889.5V884.5M347.10 653.5V658.5M395.20 889.5V884.5M395.20 653.5V658.5M443.30 889.5V884.5M443.30 653.5V658.5M491.40 889.5V884.5M491.40 653.5V658.5M539.50 889.5V884.5M539.50 653.5V658.5M58.5 889.50H63.5M539.5 889.50H534.5M58.5 850.17H63.5M539.5 850.17H534.5M58.5 810.83H63.5M539.5 810.83H534.5M58.5 771.50H63.5M539.5 771.50H534.5M58.5 732.17H63.5M539.5 732.17H534.5M58.5 692.83H63.5M539.5 692.83H534.5M58.5 653.50H63.5M539.5 653.50H534.5" stroke="#3a3a3a" stroke-width="1" fill="none"/>
<g style="font-family:'Liberation Sans',Arial,sans-serif;font-weight:bold;font-size:13px" fill="#1a1a1a"><text x="58.50" y="907.5" text-anchor="middle">0</text><text x="106.60" y="907.5" text-anchor="middle">0.1</text><text x="154.70" y="907.5" text-anchor="middle">0.2</text><text x="202.80" y="907.5" text-anchor="middle">0.3</text><text x="250.90" y="907.5" text-anchor="middle">0.4</text><text x="299.00" y="907.5" text-anchor="middle">0.5</text><text x="347.10" y="907.5" text-anchor="middle">0.6</text><text x="395.20" y="907.5" text-anchor="middle">0.7</text><text x="443.30" y="907.5" text-anchor="middle">0.8</text><text x="491.40" y="907.5" text-anchor="middle">0.9</text><text x="539.50" y="907.5" text-anchor="middle">1</text><text x="53.70" y="894.30" text-anchor="end">0</text><text x="53.70" y="854.97" text-anchor="end">100</text><text x="53.70" y="815.63" text-anchor="end">200</text><text x="53.70" y="776.30" text-anchor="end">300</text><text x="53.70" y="736.97" text-anchor="end">400</text><text x="53.70" y="697.63" text-anchor="end">500</text><text x="53.70" y="658.30" text-anchor="end">600</text></g>
<text transform="translate(20.1,771.6) rotate(-90)" text-anchor="middle" style="font-family:'Liberation Sans',Arial,sans-serif;font-weight:bold;font-size:17px" fill="#1a1a1a" textLength="74.0" lengthAdjust="spacingAndGlyphs">Power(w)</text>
<text x="300.45" y="924.4" text-anchor="middle" style="font-family:'Liberation Sans',Arial,sans-serif;font-weight:bold;font-size:17px" fill="#1a1a1a" textLength="55.1" lengthAdjust="spacingAndGlyphs">time(s)</text>
<text x="289" y="961.3" text-anchor="middle" style="font-family:'Liberation Serif',serif;font-size:16px" fill="#1a1a1a">(<tspan font-weight="bold">c</tspan>)</text>
<rect x="97.5" y="661.5" width="438.00" height="14.00" fill="none" stroke="#3a3a3a" stroke-width="1"/>
<path d="M99.5 667.9H114.5" stroke="#ff1a1a" stroke-width="1.8"/>
<path d="M300.9 667.9H317.3" stroke="#0a14ff" stroke-width="1.8" stroke-dasharray="7.3 6"/>
<path d="M406.8 667.9H423.2" stroke="#70a22c" stroke-width="1.6" stroke-dasharray="5.4 2.9 1.9 2.9"/>
<text x="117.3" y="671.8" style="font-family:'Liberation Sans',Arial,sans-serif;font-weight:bold;font-size:10.5px" fill="#1a1a1a" textLength="179.5" lengthAdjust="spacingAndGlyphs">Reinforcenment learning trajectory</text>
<text x="317.8" y="671.8" style="font-family:'Liberation Sans',Arial,sans-serif;font-weight:bold;font-size:10.5px" fill="#1a1a1a" textLength="85.4" lengthAdjust="spacingAndGlyphs">Linear trajectory</text>
<text x="424.5" y="671.8" style="font-family:'Liberation Sans',Arial,sans-serif;font-weight:bold;font-size:10.5px" fill="#1a1a1a" textLength="108.3" lengthAdjust="spacingAndGlyphs">Complex curve locus</text>
</svg>
</body></html>
